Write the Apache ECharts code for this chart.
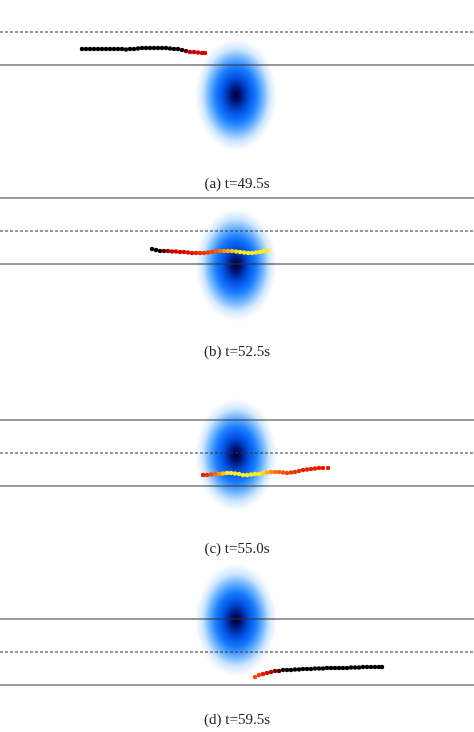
<!DOCTYPE html>
<html>
<head>
<meta charset="utf-8">
<script src="https://cdn.jsdelivr.net/npm/echarts@6/dist/echarts.min.js"></script>
<style>html,body{margin:0;background:#fff}#chart{width:474px;height:732px}</style>
</head>
<body>
<div id="chart"></div>
<script>
// lane lines per panel (y in page units)
const solidLines = [65, 198, 264, 420, 486, 619, 685];
const dashedLines = [32, 231, 453, 652];
// obstacle blob centres
const blobX = [236, 236, 236, 236];
const blobY = [95, 265, 455, 620];
const captions = ['(a) t=49.5s', '(b) t=52.5s', '(c) t=55.0s', '(d) t=59.5s'];
const captionY = [172, 340, 537, 708];

// trajectories: x, y, heat (0 black -> 1 yellow)
const aX = [82,86,90,94,98,102,106,110,114,118,122,126,130,134,138,142,146,150,154,158,162,166,170,174,178,182,186,190,194,198,202,205];
const aY = [49,49,49,49,49,49,49,49,49,49,49,49.5,49,49,48.5,48,48,48,48,48,48,48,48.5,49,49,50,51,52,52,52.5,53,53];
const aH = [0,0,0,0,0,0,0,0,0,0,0,0,0,0,0,0,0,0,0,0,0,0,0,0,0,0.05,0.15,0.3,0.33,0.33,0.35,0.35];

const bX = [152,156,160,164,168,172,176,180,184,188,192,196,200,204,208,212,216,220,224,228,232,236,240,244,248,252,256,260,264,268];
const bY = [249,250,251,251,251,251.5,251.5,252,252,252.5,253,253,253,253,252.5,252,251,251,251,251,251,251.5,252,252.5,253,253,252.5,252,251,251];
const bH = [0,0,0.05,0.15,0.25,0.3,0.33,0.35,0.38,0.4,0.42,0.45,0.5,0.52,0.55,0.6,0.65,0.7,0.78,0.85,0.9,0.95,1,1,1,1,1,1,1,1];

const cX = [203,207,211,215,219,223,227,231,235,239,243,247,251,255,259,263,267,271,275,279,283,287,291,295,299,303,307,311,315,319,323,328];
const cY = [475,475,474.5,474,474,473.5,473,473,473.5,474,475,475,474.5,474,474,473,472.5,472,472,472,472.5,473,472.5,472,471,470,469.5,469,468.5,468,468,468];
const cH = [0.45,0.5,0.6,0.7,0.8,0.9,1,1,1,1,1,1,1,1,1,0.95,0.85,0.78,0.72,0.68,0.62,0.58,0.55,0.52,0.5,0.48,0.46,0.45,0.45,0.45,0.44,0.44];

const dX = [255,259,263,267,271,275,279,283,287,291,295,299,303,307,311,315,319,323,327,331,335,339,343,347,351,355,359,363,367,371,375,379,382];
const dY = [677,675,674,673,672,671,671,670,670,670,669.5,669.5,669,669,669,668.5,668.5,668.5,668,668,668,668,668,668,667.5,667.5,667.5,667,667,667,667,667,667];
const dH = [0.62,0.55,0.45,0.38,0.28,0.2,0.12,0.05,0,0,0,0,0,0,0,0,0,0,0,0,0,0,0,0,0,0,0,0,0,0,0,0,0];

const zip = (xs, ys, hs) => xs.map((x, i) => [x, ys[i], hs[i]]);
const trails = [zip(aX, aY, aH), zip(bX, bY, bH), zip(cX, cY, cH), zip(dX, dY, dH)];

const chart = echarts.init(document.getElementById('chart'));

const blobColor = {
  type: 'radial', x: 0.5, y: 0.5, r: 0.5,
  colorStops: [
    { offset: 0, color: '#000030' },
    { offset: 0.12, color: '#001478' },
    { offset: 0.3, color: '#0050e0' },
    { offset: 0.48, color: '#1a7cff' },
    { offset: 0.64, color: '#6cb2ff' },
    { offset: 0.8, color: '#cfe7ff' },
    { offset: 0.92, color: '#f2f8ff' },
    { offset: 1, color: 'rgba(255,255,255,0)' }
  ]
};

const series = [];
series.push({
  type: 'scatter', symbol: 'circle', symbolSize: [84, 116], silent: true,
  itemStyle: { color: blobColor, opacity: 1 }, z: 1,
  data: blobX.map((x, i) => [x, blobY[i]])
});
solidLines.forEach(y => series.push({
  type: 'line', symbol: 'none', silent: true, z: 2,
  lineStyle: { color: '#333', width: 1 },
  data: [[0, y], [474, y]]
}));
dashedLines.forEach(y => series.push({
  type: 'line', symbol: 'none', silent: true, z: 2,
  lineStyle: { color: '#333', width: 1, type: [3, 2] },
  data: [[0, y], [474, y]]
}));
const trailStart = series.length;
trails.forEach(t => series.push({
  type: 'scatter', symbol: 'circle', symbolSize: 4.5, z: 3,
  itemStyle: { opacity: 1 }, data: t
}));

chart.setOption({
  animation: false,
  title: captions.map((c, i) => ({
    text: c, left: 'center', top: captionY[i],
    textStyle: { fontFamily: 'Liberation Serif', fontWeight: 'normal', fontSize: 15, color: '#222' }
  })),
  grid: { left: 0, right: 0, top: 0, bottom: 0 },
  xAxis: { type: 'value', min: 0, max: 474, show: false },
  yAxis: { type: 'value', min: 0, max: 732, inverse: true, show: false },
  visualMap: {
    show: false, dimension: 2, min: 0, max: 1,
    seriesIndex: [trailStart, trailStart + 1, trailStart + 2, trailStart + 3],
    inRange: { color: ['#000000', '#d00000', '#ff5a00', '#ffee20'] }
  },
  series: series
});
</script>
</body>
</html>
